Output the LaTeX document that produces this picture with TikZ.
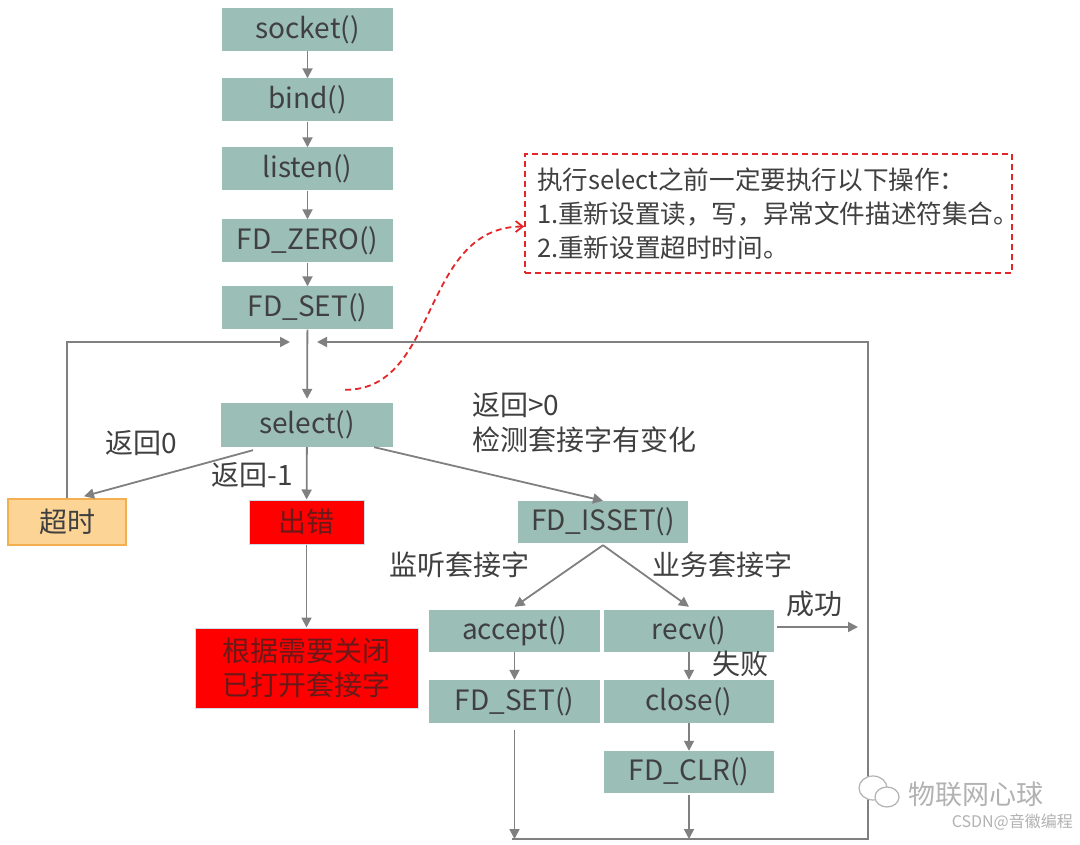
\documentclass[tikz,border=0pt]{standalone}
\usepackage{fontspec}
\setmainfont{Noto Sans CJK SC}
\usetikzlibrary{arrows.meta,calc}
\definecolor{boxfill}{RGB}{155,190,183}
\definecolor{linegray}{RGB}{128,128,128}
\definecolor{txt}{RGB}{64,64,64}
\definecolor{tofill}{RGB}{252,213,150}
\definecolor{todraw}{RGB}{244,176,80}
\definecolor{errred}{RGB}{255,0,0}
\definecolor{errtxt}{RGB}{105,25,25}
\definecolor{errdraw}{RGB}{205,220,235}
\definecolor{dashred}{RGB}{228,38,40}
\definecolor{wm}{RGB}{178,178,178}
\newcommand\bxfont{\fontsize{28}{34}\selectfont}
\newcommand\lbfont{\fontsize{28}{35}\selectfont}
\newcommand\cofont{\fontsize{25.6}{34}\selectfont}
\newcommand\wmfont{\fontsize{27}{30}\selectfont}
\newcommand\wmsmall{\fontsize{16}{18}\selectfont}
\tikzset{
  fbox/.style={fill=boxfill, draw=none, text=txt, minimum width=171pt, minimum height=43pt, inner sep=0pt, font=\bxfont},
  errbox/.style={fill=errred, draw=errdraw, line width=1pt, text=errtxt, inner sep=0pt, font=\bxfont, align=center},
  tobox/.style={fill=tofill, draw=todraw, line width=1.5pt, text=txt, inner sep=0pt, font=\bxfont},
  arr/.style={draw=linegray, line width=1.8pt, -{Triangle[length=10pt,width=10pt]}},
  lbl/.style={text=txt, font=\lbfont, inner sep=0pt},
  reddash/.style={draw=dashred, line width=1.8pt, dash pattern=on 6pt off 4pt},
}
\begin{document}
\begin{tikzpicture}[x=1pt,y=-1pt]
\useasboundingbox[fill=white] (0,0) rectangle (1080,845);

% main column
\node[fbox] (socket) at (307.5,29.5) {socket()};
\node[fbox] (bind)   at (307.5,100)  {bind()};
\node[fbox] (listen) at (307.5,169)  {listen()};
\node[fbox] (fdzero) at (307.5,241)  {FD\_ZERO()};
\node[fbox] (fdset)  at (307.5,308)  {FD\_SET()};
\node[fbox, minimum width=172pt, minimum height=44pt] (select) at (307,425) {select()};

\node[tobox, minimum width=118pt, minimum height=46pt] (timeout) at (67,522) {超时};
\node[errbox, minimum width=115pt, minimum height=44pt] (err) at (306.5,522) {出错};
\node[errbox, minimum width=223pt, minimum height=80pt] (closeall) at (306.5,668) {根据需要关闭\\已打开套接字};

\node[fbox, minimum width=170pt, minimum height=42pt] (isset) at (603,522) {FD\_ISSET()};
\node[fbox, minimum height=42pt] (accept) at (514.5,631) {accept()};
\node[fbox, minimum width=170pt, minimum height=42pt] (recv) at (689,631) {recv()};
\node[fbox] (fdset2) at (514.5,701.5) {FD\_SET()};
\node[fbox, minimum width=170pt] (close) at (689,701.5) {close()};
\node[fbox, minimum width=170pt, minimum height=42pt] (fdclr) at (689,772) {FD\_CLR()};

% callout
\node[reddash, text width=487pt, minimum height=119pt, inner sep=0pt, text=txt, font=\cofont, align=left] (callout) at (768.5,213.5)
  {\hspace*{12pt}执行select之前一定要执行以下操作：\\\hspace*{12pt}1.重新设置读，写，异常文件描述符集合。\\\hspace*{12pt}2.重新设置超时时间。};

% helper coordinates
\coordinate (mL) at (290,342);
\coordinate (mR) at (317,342);
\coordinate (BL) at (512,839);
\coordinate (BR) at (868,839);
\coordinate (okend) at (858,627);

% arrows in column
\draw[arr] (socket) -- (bind);
\draw[arr] (bind) -- (listen);
\draw[arr] (listen) -- (fdzero);
\draw[arr] (fdzero) -- (fdset);
\draw[arr, shorten >=4pt] (fdset) -- (select);

% loops
\draw[arr] (timeout.north) |- (mL);
\draw[arr] (BL) -- (BR) |- (mR);

% select outputs
\draw[arr] ($(select.south)+(-54,3)$) -- ($(timeout.north)+(17,-2)$);
\draw[arr] (select) -- (err);
\draw[arr] (err) -- (closeall);
\draw[arr] ($(select.south east)+(-19,0)$) -- (isset.north);

% isset branches
\draw[arr] ($(isset.south)+(0,2)$) -- ($(accept.north)+(0,-3)$);
\draw[arr] ($(isset.south)+(0,2)$) -- ($(recv.north)+(0,-3)$);
\draw[arr] (accept) -- (fdset2);
\draw[arr] (recv) -- (close);
\draw[arr] (close) -- (fdclr);
\draw[arr] ($(recv.east)+(3,-4)$) -- (okend);
\draw[arr] ($(fdset2.south)+(0,7)$) -- (fdset2.south |- BL);
\draw[arr] ($(fdclr.south)+(0,2)$) -- (fdclr.south |- BL);

% dashed curve to callout
\draw[reddash, -{Straight Barb[length=7pt,width=11pt]}] ($(select.north east)+(-48,-13)$) .. controls (440,390) and (420,227) .. ($(callout.west)+(0,13)$);

% labels
\node[lbl] (l0) at (141,443) {返回0};
\node[lbl] (l1) at (252,475) {返回-1};
\node[lbl, anchor=west, align=left] (lgt) at (472,423) {返回>0\\检测套接字有变化};
\node[lbl] (llisten) at (459,565) {监听套接字};
\node[lbl] (lbiz) at (722,565) {业务套接字};
\node[lbl] (lok) at (814,604) {成功};
\node[lbl] (lfail) at (740,664) {失败};

% watermark
\draw[wm, line width=1.2pt, fill=white] (873,788) ellipse (14pt and 12pt);
\draw[wm, line width=1.2pt, fill=white] (887,797) ellipse (12pt and 10pt);
\node[text=wm, font=\wmfont, inner sep=0pt, anchor=west] (wm1) at (908,794) {物联网心球};
\node[text=wm, font=\wmsmall, inner sep=0pt, anchor=east] (wm2) at (1073,822) {CSDN@音徽编程};
\end{tikzpicture}
\end{document}
